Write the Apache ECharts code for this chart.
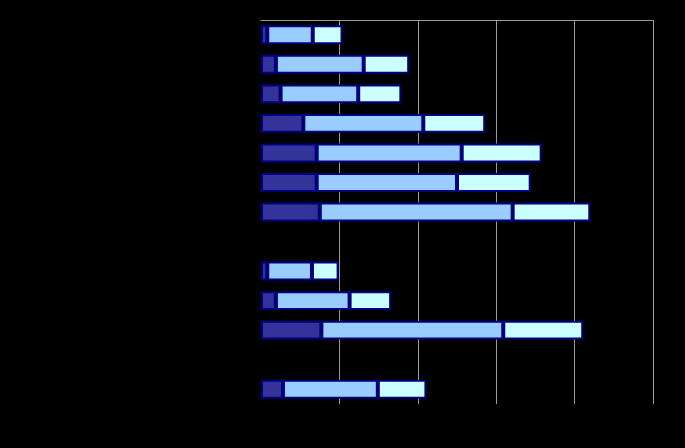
<!DOCTYPE html>
<html><head><meta charset="utf-8">
<script src="https://cdn.jsdelivr.net/npm/echarts@6/dist/echarts.min.js"></script>
<style>html,body{margin:0;padding:0;background:#000;}#c{width:685px;height:448px;}</style>
</head><body><div id="c"></div>
<script>
const categories = ['1','2','3','4','5','6','7','','9','10','11','',' 13'];
const seriesA = [0.8, 1.9, 2.5, 5.4, 7.1, 7.1, 7.5, null, 0.8, 1.9, 7.7, null, 2.8];
const seriesB = [5.8, 11.2, 9.9, 15.3, 18.5, 17.9, 24.6, null, 5.7, 9.4, 23.2, null, 12.1];
const seriesC = [3.8, 5.8, 5.5, 7.9, 10.2, 9.4, 9.9, null, 3.4, 5.3, 10.2, null, 6.2];
const chart = echarts.init(document.getElementById('c'));
const border = {borderColor:'#000080', borderWidth:2};
chart.setOption({
  backgroundColor:'#000',
  animation:false,
  grid:{left:261,right:32,top:20,bottom:44},
  xAxis:{type:'value',min:0,max:50,interval:10,position:'top',
    axisLine:{show:true,lineStyle:{color:'#9a9a9a',width:1}},
    axisTick:{show:false},axisLabel:{show:false},
    splitLine:{show:true,lineStyle:{color:['#000','#9a9a9a','#9a9a9a','#9a9a9a','#9a9a9a','#9a9a9a'],width:1}}},
  yAxis:{type:'category',data:categories,inverse:true,
    axisLine:{show:false},axisTick:{show:false},axisLabel:{show:false}},
  series:[
    {type:'bar',stack:'s',data:seriesA,barCategoryGap:'36%',itemStyle:Object.assign({color:'#333399'},border)},
    {type:'bar',stack:'s',data:seriesB,itemStyle:Object.assign({color:'#99ccff'},border)},
    {type:'bar',stack:'s',data:seriesC,itemStyle:Object.assign({color:'#ccffff'},border)}
  ]
});
</script></body></html>
